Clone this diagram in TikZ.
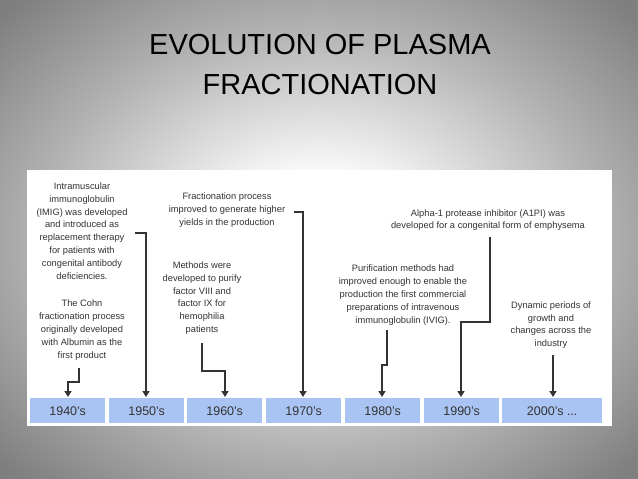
\documentclass[tikz,border=0pt]{standalone}
\usepackage{fontspec}
\setmainfont{Liberation Sans}
\usetikzlibrary{arrows.meta}
\definecolor{boxblue}{HTML}{A9C4F2}
\definecolor{ink}{HTML}{333333}
\pgfdeclareradialshading{bgshade}{\pgfpoint{0bp}{0bp}}{color(0bp)=(white); color(6bp)=(white); color(22bp)=(black!30); color(34bp)=(black!50); color(50bp)=(black!55)}
\begin{document}
\begin{tikzpicture}[x=1pt,y=-1pt,
  yr/.style={fill=boxblue,minimum width=75pt,minimum height=25pt,anchor=north west,inner sep=0pt,font=\fontsize{12.5}{14}\selectfont,text=ink},
  desc/.style={align=center,font=\fontsize{9.3}{12.8}\selectfont,text=ink,inner sep=0pt},
  arr/.style={draw=ink,line width=1.8pt,-{Triangle[length=6pt,width=7pt]}}]
\useasboundingbox (0,0) rectangle (638,479);
\shade[shading=bgshade] (0,0) rectangle (638,479);
\node[font=\fontsize{29}{40}\selectfont,align=center,text=black] (title) at (320,65) {EVOLUTION OF PLASMA\\FRACTIONATION};
\fill[white] (27,170) rectangle (612,426);
\node[yr] (y40) at (30,398) {1940's};
\node[yr] (y50) at (109,398) {1950's};
\node[yr] (y60) at (187,398) {1960's};
\node[yr] (y70) at (266,398) {1970's};
\node[yr] (y80) at (345,398) {1980's};
\node[yr] (y90) at (424,398) {1990's};
\node[yr,minimum width=100pt] (y00) at (502,398) {2000's ...};
\node[desc] (t1) at (82,231) {Intramuscular\\immunoglobulin\\(IMIG) was developed\\and introduced as\\replacement therapy\\for patients with\\congenital antibody\\deficiencies.};
\node[desc] (t2) at (82,330) {The Cohn\\fractionation process\\originally developed\\with Albumin as the\\first product};
\node[desc] (t3) at (227,210) {Fractionation process\\improved to generate higher\\yields in the production};
\node[desc] (t4) at (202,298) {Methods were\\developed to purify\\factor VIII and\\factor IX for\\hemophilia\\patients};
\node[desc] (t5) at (403,295) {Purification methods had\\improved enough to enable the\\production the first commercial\\preparations of intravenous\\immunoglobulin (IVIG).};
\node[desc] (t6) at (488,220) {Alpha-1 protease inhibitor (A1PI) was\\developed for a congenital form of emphysema};
\node[desc] (t7) at (551,325) {Dynamic periods of\\growth and\\changes across the\\industry};
\coordinate (s1) at (79,368);
\coordinate (s2) at (135,233);
\coordinate (s3) at (202,343);
\coordinate (s4) at (294,212);
\coordinate (s5) at (387,330);
\coordinate (s6) at (490,237);
\coordinate (s7) at (553,355);
\draw[arr] (s1) |- (68,382) -- (68,397);
\draw[arr] (s2) -| (146,397);
\draw[arr] (s3) |- (225,371) -- (225,397);
\draw[arr] (s4) -| (303,397);
\draw[arr] (s5) |- (382,365) -- (382,397);
\draw[arr] (s6) |- (461,322) -- (461,397);
\draw[arr] (s7) -- (553,397);
\end{tikzpicture}
\end{document}
